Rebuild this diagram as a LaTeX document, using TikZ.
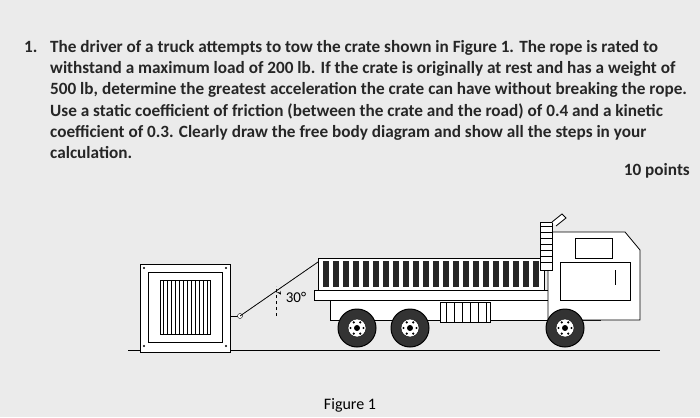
\documentclass[tikz,border=0pt]{standalone}
\usepackage{fontspec}
\setmainfont{Carlito}
\begin{document}
\begin{tikzpicture}[x=1pt,y=-1pt,
  txt/.style={anchor=base west,inner sep=0pt,font=\fontsize{17.2}{20}\selectfont\bfseries,text=black!85},
  part/.style={draw=black,line width=0.8pt,fill=white},
  wheel/.style={draw=black,line width=1pt,fill=black!80}]
\fill[black!8] (0,0) rectangle (700,417);
\useasboundingbox (0,0) rectangle (700,417);
\node[txt] (n1) at (24,53) {1.};
\node[txt] (l1) at (50,53) {The driver of a truck attempts to tow the crate shown in Figure 1. The rope is rated to};
\node[txt] (l2) at (50,74) {withstand a maximum load of 200 lb. If the crate is originally at rest and has a weight of};
\node[txt] (l3) at (50,95) {500 lb, determine the greatest acceleration the crate can have without breaking the rope.};
\node[txt] (l4) at (50,116) {Use a static coefficient of friction (between the crate and the road) of 0.4 and a kinetic};
\node[txt] (l5) at (50,137) {coefficient of 0.3. Clearly draw the free body diagram and show all the steps in your};
\node[txt] (l6) at (50,158) {calculation.};
\node[txt,anchor=base east] (pts) at (690,175) {10 points};
% ground
\draw[line width=1pt] (128,350) -- (660,350);
% crate
\node[part,minimum width=90pt,minimum height=88pt,anchor=north west,inner sep=0pt] (crate) at (140,264) {};
\draw[line width=0.7pt] (148,272) rectangle (222,342);
\draw[line width=0.7pt] (160,280) rectangle (210,334);
\foreach \x in {163,167,...,207} \draw[line width=0.5pt] (\x,280) -- (\x,334);
\foreach \y in {268,346} \foreach \x in {144,226} \fill (\x,\y) circle (1.2);
% rope
\coordinate (hook) at (240,316);
\coordinate (truckhook) at (318,262);
\draw[line width=0.8pt] (crate.east |- hook) -- (hook);
\fill[white,draw=black] (hook) circle (2.5);
\draw[line width=0.8pt] (hook) -- (truckhook);
\draw[dashed,line width=0.5pt] (276,316) -- (276,286);
\draw[-stealth,line width=0.5pt] (276,292) arc (-90:-34:6);
\node[font=\fontsize{15}{17}\selectfont] (ang) at (296,297) {30\textdegree};
% truck bed with slats
\node[part,minimum width=226pt,minimum height=32pt,anchor=north west,inner sep=0pt] (bed) at (318,258) {};
\foreach \x in {326,336,...,536} \fill[black!85] (\x-3,261) rectangle (\x+3,287);
\draw[part] (314,290) rectangle (548,300);
\draw[part] (330,300) rectangle (600,320);
\draw[part] (440,302) rectangle (490,322);
\foreach \x in {446,454,...,486} \draw (\x,302) -- (\x,322);
% cab
\draw[part] (548,232) -- (625,232) -- (640,250) -- (640,320) -- (548,320) -- cycle;
\draw[part] (575,238) rectangle (612,258);
\draw[part] (560,262) rectangle (630,300);
\draw[line width=1pt] (615,270) -- (615,285);
% exhaust stack
\draw[part] (540,222) rectangle (552,270);
\foreach \y in {226,232,...,264} \draw (540,\y) -- (552,\y);
\draw[part] (552,222) -- (562,214) -- (566,218) -- (556,226);
% wheels
\foreach \n/\x in {w1/357,w2/410,w3/565}{
  \draw[wheel] (\x,328) circle (19);
  \draw[fill=white] (\x,328) circle (9);
  \fill[black] (\x,328) circle (3);
  \foreach \a in {0,60,...,300} \fill (\x,328) ++(\a:6.5) circle (1.2);
}
\node[font=\fontsize{16}{19}\selectfont] (fig) at (350,405) {Figure 1};
\end{tikzpicture}
\end{document}
